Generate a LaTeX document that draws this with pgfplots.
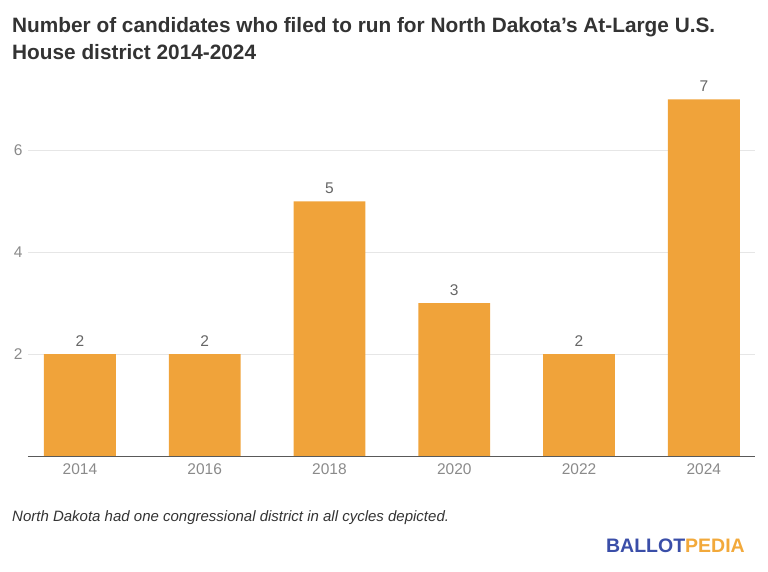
\documentclass[border=0pt]{standalone}
\usepackage{pgfplots}
\pgfplotsset{compat=1.18}
\usepackage{fontspec}
\setmainfont{Liberation Sans}
\definecolor{barc}{HTML}{F0A33A}
\definecolor{gridc}{HTML}{E6E6E6}
\definecolor{tickc}{HTML}{8A8A8A}
\definecolor{valc}{HTML}{666666}
\definecolor{titc}{HTML}{333333}
\definecolor{bpblue}{HTML}{3A4EA8}
\definecolor{bporange}{HTML}{F2A93B}
\begin{document}
\begin{tikzpicture}
\begin{axis}[
  name=ax,
  at={(0,0)}, anchor=south west,
  scale only axis,
  width=727pt, height=382pt,
  xmin=-0.416, xmax=5.41,
  ymin=0, ymax=7.5,
  ybar, bar width=0.576,
  xtick=data,
  xticklabels={2014,2016,2018,2020,2022,2024},
  ytick={2,4,6},
  axis x line*=bottom,
  axis y line*=left,
  x axis line style={draw=black!65, line width=0.8pt},
  y axis line style={draw=none},
  ymajorgrids,
  grid style={gridc, line width=0.8pt},
  major tick length=0pt,
  tick style={draw=none},
  ticklabel style={font=\fontsize{15.5}{17}\selectfont, text=tickc},
  /pgf/number format/assume math mode=true,
  xticklabel style={yshift=-4pt},
  yticklabel style={xshift=-2pt},
  nodes near coords,
  every node near coord/.append style={font=\fontsize{15.5}{17}\selectfont, text=valc, yshift=4pt},
  clip=false,
]
\addplot[fill=barc, draw=none] coordinates {(0,2) (1,2) (2,5) (3,3) (4,2) (5,7)};
\end{axis}
\path[use as bounding box] ([shift={(-28pt,-116pt)}]ax.south west) rectangle ([shift={(740pt,456pt)}]ax.south west);
\node[anchor=base west, text=titc, font=\bfseries\fontsize{20.8}{26}\selectfont, inner sep=0pt] at ([shift={(-16pt,423pt)}]ax.south west) {Number of candidates who filed to run for North Dakota{\char"27}s At-Large U.S.};
\node[anchor=base west, text=titc, font=\bfseries\fontsize{20.8}{26}\selectfont, inner sep=0pt] at ([shift={(-16pt,396pt)}]ax.south west) {House district 2014-2024};
\node[anchor=base west, text=titc, font=\itshape\fontsize{15}{17}\selectfont, inner sep=0pt] at ([shift={(-16pt,-66pt)}]ax.south west) {North Dakota had one congressional district in all cycles depicted.};
\node[anchor=base east, font=\bfseries\fontsize{19.5}{22}\selectfont, inner sep=0pt] at ([shift={(717pt,-97pt)}]ax.south west) {\textcolor{bpblue}{BALLOT}\textcolor{bporange}{PEDIA}};
\end{tikzpicture}
\end{document}
